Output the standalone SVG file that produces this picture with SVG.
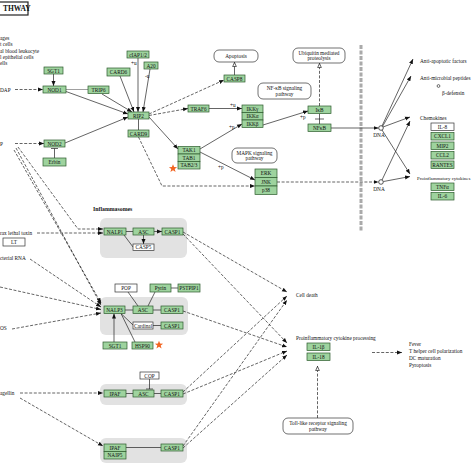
<svg xmlns="http://www.w3.org/2000/svg" width="474" height="474" viewBox="0 0 474 474">
<style>
.g{fill:#9ed39e;stroke:#2c5a2c;stroke-width:0.7}
.w{fill:#fff;stroke:#333;stroke-width:0.7}
.r{fill:#fff;stroke:#333;stroke-width:0.7}
.gb{fill:#e2e2e2;stroke:none}
text{font-family:"Liberation Serif",serif;font-size:5.3px;fill:#111}
.c{text-anchor:middle}
.s{stroke:#222;stroke-width:0.7;fill:none}
.d{stroke-dasharray:3 1.6}
.gl{stroke:#777;stroke-width:0.7;fill:none}
</style>
<defs>
<marker id="a" viewBox="0 0 6 6" refX="6" refY="3" markerWidth="5" markerHeight="5" orient="auto" markerUnits="userSpaceOnUse"><path d="M0,0.6 L6,3 L0,5.4z" fill="#111"/></marker>
<marker id="h" viewBox="0 0 6 6" refX="6" refY="3" markerWidth="5" markerHeight="5" orient="auto" markerUnits="userSpaceOnUse"><path d="M0.5,0.8 L5.5,3 L0.5,5.2z" fill="#fff" stroke="#111" stroke-width="0.8"/></marker>
</defs>
<rect width="474" height="474" fill="#fff"/>

<g id="title"><rect x="-2" y="2" width="30" height="13" fill="#fff" stroke="#222" stroke-width="1.2"/><text x="3" y="11" style="font-size:7.5px;font-weight:bold">THWAY</text></g>

<g id="lefttexts">
<text x="0" y="40">ages</text>
<text x="0" y="45.5">t cells</text>
<text x="0" y="52.5">al blood leukocyte</text>
<text x="0" y="58.5">l epithelial cells</text>
<text x="0" y="65">ells</text>
<text x="0" y="91.5">DAP</text>
<text x="0" y="145.5">P</text>
<text x="0" y="235">rax lethal toxin</text>
<text x="0" y="260">cterial RNA</text>
<text x="0" y="330">OS</text>
<text x="0" y="395">agellin</text>
</g>

<g id="inflammasome-areas">
<rect class="gb" x="100" y="218" width="87" height="40" rx="6"/>
<rect class="gb" x="100" y="297" width="88" height="38" rx="6"/>
<rect class="gb" x="100" y="384" width="87" height="21" rx="6"/>
<rect class="gb" x="100" y="438" width="87" height="25" rx="6"/>
<text x="93" y="211" style="font-size:5.8px;font-weight:bold">Inflammasomes</text>
</g>

<g id="membrane"><line x1="361" y1="45" x2="361" y2="232" stroke="#aaa" stroke-width="3" stroke-dasharray="4 1.5"/></g>

<g id="connectors">
<path class="s d" d="M15,89.5 L43,89.5" marker-end="url(#a)"/>
<path class="s d" d="M15,143.5 L44,143.5" marker-end="url(#a)"/>
<path class="s" d="M53.5,74 L53.5,86" marker-end="url(#a)"/>
<path class="gl" d="M66,89.5 L88,89.5"/>
<path class="s" d="M66,91.5 L128,114" marker-end="url(#a)"/>
<path class="s" d="M65,143 L128,117" marker-end="url(#a)"/>
<path class="s" d="M54.5,158 L54.5,148.5 M51,148.5 L58,148.5"/>
<path class="s" d="M102,94 L132,112" marker-end="url(#a)"/>
<path class="s" d="M120,76 L134,112" marker-end="url(#a)"/>
<path class="s" d="M138,58 L138,112" marker-end="url(#a)"/>
<path class="s" d="M150,69 L143,112" marker-end="url(#a)"/>
<path class="s" d="M138.5,119 L138.5,130"/>
<path class="s d" d="M149,114 L224,80" marker-end="url(#a)"/>
<path class="s d" d="M149,115.5 L188,108.5" marker-end="url(#a)"/>
<path class="s" d="M149,117 L178,149" marker-end="url(#a)"/>
<path class="s" d="M234.5,75 L234.5,62" marker-end="url(#h)"/>
<path class="s" d="M209,108.5 L242,108.5" marker-end="url(#a)"/>
<path class="s" d="M200,149 L242,124" marker-end="url(#a)"/>
<path class="s" d="M200,152 L255,180" marker-end="url(#a)"/>
<path class="s d" d="M138.5,137 L162,186 L255,186" marker-end="url(#a)"/>
<path class="s d" d="M277,182 L378.5,182" marker-end="url(#a)"/>
<path class="s" d="M263,125 L308,111" marker-end="url(#a)"/>
<path class="s" d="M319.5,113.5 L319.5,124 M315,119 L324,119"/>
<path class="s d" d="M319.5,106 L319.5,63" marker-end="url(#h)"/>
<path class="s" d="M331,128 L378.5,128" marker-end="url(#a)"/>
<path class="s" d="M382,126 L413,59" marker-end="url(#a)"/>
<path class="s" d="M382.5,126.5 L411,76" marker-end="url(#a)"/>
<path class="s" d="M383,127 L410,117" marker-end="url(#a)"/>
<path class="s" d="M382,130 L410,174" marker-end="url(#a)"/>
<path class="s" d="M382,180 L410,121" marker-end="url(#a)"/>
<path class="s" d="M383.5,181.5 L410,176.5" marker-end="url(#a)"/>
<path class="s d" d="M18,147 L78,229 L103,229" marker-end="url(#a)"/>
<path class="s d" d="M37,233 L103,233" marker-end="url(#a)"/>
<path class="s d" d="M14,150 L101,303" marker-end="url(#a)"/>
<path class="s d" d="M16,148 L101,305" marker-end="url(#a)"/>
<path class="s d" d="M30,259 L101,307" marker-end="url(#a)"/>
<path class="s d" d="M0,287 L101,309.5" marker-end="url(#a)"/>
<path class="s d" d="M12,329 L101,313" marker-end="url(#a)"/>
<path class="s d" d="M20,393 L103,393" marker-end="url(#a)"/>
<path class="s d" d="M20,398 L103,446" marker-end="url(#a)"/>
<path class="s" d="M126,231.5 L133,231.5"/>
<path class="s" d="M154,231.5 L162,231.5" marker-end="url(#a)"/>
<path class="s" d="M143.5,235 L143.5,244" marker-end="url(#a)"/>
<path class="s" d="M124,235 L133,247"/>
<path class="s" d="M125,310 L133,310"/>
<path class="s" d="M153,310 L161,310"/>
<path class="s" d="M171,288 L178,288"/>
<path class="s" d="M128,292 L138,306"/>
<path class="s" d="M155,292 L148,306"/>
<path class="s" d="M121,313.5 L133,325"/>
<path class="s" d="M153,325.5 L161,325.5"/>
<path class="s" d="M114,342 L114,313.5" marker-end="url(#a)"/>
<path class="s" d="M135,342 L121,313.5"/>
<path class="s" d="M126,393.5 L133,393.5"/>
<path class="s" d="M154,393.5 L161,393.5"/>
<path class="s" d="M149.5,379 L149.5,389 M146,389 L153,389"/>
<path class="s" d="M126,447.5 L161,447.5"/>
<path class="s d" d="M183,232 L287,292" marker-end="url(#a)"/>
<path class="s d" d="M183,234 L287,343" marker-end="url(#a)"/>
<path class="s d" d="M183,311 L287,347" marker-end="url(#a)"/>
<path class="s d" d="M183,392 L287,296" marker-end="url(#a)"/>
<path class="s d" d="M183,394 L287,351" marker-end="url(#a)"/>
<path class="s d" d="M183,446 L287,300" marker-end="url(#a)"/>
<path class="s d" d="M183,448 L287,355" marker-end="url(#a)"/>
<path class="s d" d="M317.5,418 L317.5,366" marker-end="url(#h)"/>
<path class="s d" d="M372,352.5 L402,352.5" marker-end="url(#a)"/>
</g>

<g id="edge-labels" style="font-size:4.5px">
<text x="131" y="65">+u</text>
<text x="145" y="78">-u</text>
<text x="230" y="107">+u</text>
<text x="229" y="129">+p</text>
<text x="218" y="169">+p</text>
<text x="300" y="119">+p</text>
</g>

<g id="SGT1"><rect class="g" x="44" y="67" width="19" height="7"/><text class="c" x="53.5" y="72.5">SGT1</text></g>
<g id="NOD1"><rect class="g" x="43" y="86" width="23" height="7"/><text class="c" x="54.5" y="91.5">NOD1</text></g>
<g id="TRIP6"><rect class="g" x="88" y="86" width="21" height="7.5"/><text class="c" x="98.5" y="91.8">TRIP6</text></g>
<g id="NOD2"><rect class="g" x="44" y="140" width="21" height="7"/><text class="c" x="54.5" y="145.5">NOD2</text></g>
<g id="Erbin"><rect class="g" x="43" y="158" width="23" height="8"/><text class="c" x="54.5" y="164">Erbin</text></g>
<g id="cIAP"><rect class="g" x="127" y="51" width="22" height="7"/><text class="c" x="138" y="56.5">cIAP1/2</text></g>
<g id="A20"><rect class="g" x="144" y="62" width="14" height="7"/><text class="c" x="151" y="67.5">A20</text></g>
<g id="CARD6"><rect class="g" x="107" y="68" width="23" height="8"/><text class="c" x="118.5" y="74">CARD6</text></g>
<g id="RIP2"><rect class="g" x="128" y="112" width="21" height="7"/><text class="c" x="138.5" y="117.5">RIP2</text></g>
<g id="CARD9"><rect class="g" x="128" y="130" width="21" height="7"/><text class="c" x="138.5" y="135.5">CARD9</text></g>
<g id="CASP8"><rect class="g" x="224" y="75" width="21" height="7"/><text class="c" x="234.5" y="80.5">CASP8</text></g>
<g id="Apoptosis"><rect class="r" x="214" y="50" width="44" height="12" rx="5"/><text class="c" x="236" y="58">Apoptosis</text></g>
<g id="TRAF6"><rect class="g" x="188" y="105" width="21" height="7"/><text class="c" x="198.5" y="110.5">TRAF6</text></g>
<g id="IKK"><rect class="g" x="242" y="105" width="21" height="7.5"/><rect class="g" x="242" y="112.5" width="21" height="7.5"/><rect class="g" x="242" y="120" width="21" height="7.5"/><text class="c" x="252.5" y="110.8">IKKγ</text><text class="c" x="252.5" y="118.3">IKKα</text><text class="c" x="252.5" y="125.8">IKKβ</text></g>
<g id="NFkB-path"><rect class="r" x="258" y="83" width="53" height="16" rx="5"/><text class="c" x="284.5" y="90">NF-κB signaling</text><text class="c" x="284.5" y="96">pathway</text></g>
<g id="TAK1"><rect class="g" x="178" y="146.5" width="22" height="7.5"/><rect class="g" x="178" y="154" width="22" height="7.5"/><rect class="g" x="178" y="161.5" width="22" height="7.5"/><text class="c" x="189" y="152.3">TAK1</text><text class="c" x="189" y="159.8">TAB1</text><text class="c" x="189" y="167.3">TAB2/3</text></g>
<g id="star1"><path d="M173,164.2 L174.1,167.1 L177.1,167.2 L174.7,169 L175.6,172 L173,170.2 L170.4,172 L171.3,169 L168.9,167.2 L171.9,167.1z" fill="#f26522"/></g>
<g id="MAPK-path"><rect class="r" x="232" y="148" width="45" height="15" rx="5"/><text class="c" x="254.5" y="154.5">MAPK signaling</text><text class="c" x="254.5" y="160">pathway</text></g>
<g id="ERK"><rect class="g" x="255" y="169" width="22" height="8.5"/><rect class="g" x="255" y="177.5" width="22" height="8.5"/><rect class="g" x="255" y="186" width="22" height="8.5"/><text class="c" x="266" y="175.2">ERK</text><text class="c" x="266" y="183.7">JNK</text><text class="c" x="266" y="192.2">p38</text></g>
<g id="Ubiquitin"><rect class="r" x="293" y="48" width="52" height="15" rx="5"/><text class="c" x="319" y="54.5">Ubiquitin mediated</text><text class="c" x="319" y="60">proteolysis</text></g>
<g id="IkB"><rect class="g" x="308" y="106" width="23" height="7.5"/><text class="c" x="319.5" y="111.8">IκB</text></g>
<g id="NFkB"><rect class="g" x="308" y="124" width="23" height="7.5"/><text class="c" x="319.5" y="129.8">NFκB</text></g>
<g id="DNA1"><circle cx="381" cy="128" r="2.3" fill="#fff" stroke="#111" stroke-width="0.7"/><text class="c" x="379" y="137">DNA</text></g>
<g id="DNA2"><circle cx="381" cy="182" r="2.3" fill="#fff" stroke="#111" stroke-width="0.7"/><text class="c" x="379" y="191">DNA</text></g>
<g id="outputs-right">
<text x="420" y="62.5">Anti-apoptotic factors</text>
<text x="420" y="80">Anti-microbial peptides</text>
<circle cx="438.5" cy="86" r="1.4" fill="#fff" stroke="#111" stroke-width="0.6"/>
<text x="442" y="95">β-defensin</text>
<text x="420" y="120">Chemokines</text>
<text x="417" y="179.5" style="font-size:4.9px">Proinflammatory cytokines</text>
</g>
<g id="IL8"><rect class="w" x="431" y="123" width="23" height="7.5"/><text class="c" x="442.5" y="128.8">IL-8</text></g>
<g id="CXCL1"><rect class="g" x="431" y="132.5" width="23" height="7.5"/><text class="c" x="442.5" y="138.3">CXCL1</text></g>
<g id="MIP2"><rect class="g" x="431" y="142" width="23" height="7.5"/><text class="c" x="442.5" y="147.8">MIP2</text></g>
<g id="CCL2"><rect class="g" x="431" y="151.5" width="23" height="7.5"/><text class="c" x="442.5" y="157.3">CCL2</text></g>
<g id="RANTES"><rect class="g" x="431" y="161" width="23" height="7.5"/><text class="c" x="442.5" y="166.8">RANTES</text></g>
<g id="TNFa"><rect class="g" x="431" y="183" width="23" height="7.5"/><text class="c" x="442.5" y="188.8">TNFα</text></g>
<g id="IL6"><rect class="g" x="431" y="192.5" width="23" height="7.5"/><text class="c" x="442.5" y="198.3">IL-6</text></g>

<g id="LT"><rect class="w" x="3" y="238" width="22" height="8"/><text class="c" x="14" y="244">LT</text></g>
<g id="NALP1"><rect class="g" x="104" y="228" width="22" height="7"/><text class="c" x="115" y="233.5">NALP1</text></g>
<g id="ASC1"><rect class="g" x="133" y="228" width="21" height="7"/><text class="c" x="143.5" y="233.5">ASC</text></g>
<g id="CASP1a"><rect class="g" x="162" y="228" width="21" height="7"/><text class="c" x="172.5" y="233.5">CASP1</text></g>
<g id="CASP5"><rect class="w" x="133" y="244" width="21" height="6.5"/><text class="c" x="143.5" y="249.3">CASP5</text></g>

<g id="POP"><rect class="w" x="115" y="284" width="22" height="8"/><text class="c" x="126" y="290">POP</text></g>
<g id="Pyrin"><rect class="g" x="150" y="284" width="21" height="8"/><text class="c" x="160.5" y="290">Pyrin</text></g>
<g id="PSTPIP1"><rect class="g" x="178" y="284" width="22" height="8"/><text class="c" x="189" y="290">PSTPIP1</text></g>
<g id="NALP3"><rect class="g" x="104" y="306" width="21" height="7.5"/><text class="c" x="114.5" y="311.8">NALP3</text></g>
<g id="ASC2"><rect class="g" x="133" y="306" width="20" height="7.5"/><text class="c" x="143" y="311.8">ASC</text></g>
<g id="CASP1b"><rect class="g" x="161" y="306" width="22" height="7.5"/><text class="c" x="172" y="311.8">CASP1</text></g>
<g id="Cardinal"><rect class="w" x="133" y="322" width="20" height="7"/><text class="c" x="143" y="327.5">Cardinal</text></g>
<g id="CASP1c"><rect class="g" x="161" y="322" width="22" height="7"/><text class="c" x="172" y="327.5">CASP1</text></g>
<g id="SGT1b"><rect class="g" x="103" y="342" width="24" height="7"/><text class="c" x="115" y="347.5">SGT1</text></g>
<g id="HSP90"><rect class="g" x="132" y="342" width="21" height="7"/><text class="c" x="142.5" y="347.5">HSP90</text></g>
<g id="star2"><path d="M159,340.7 L160.1,343.6 L163.1,343.7 L160.7,345.5 L161.6,348.5 L159,346.7 L156.4,348.5 L157.3,345.5 L154.9,343.7 L157.9,343.6z" fill="#f26522"/></g>

<g id="COP"><rect class="w" x="140" y="372" width="19" height="7"/><text class="c" x="149.5" y="377.5">COP</text></g>
<g id="IPAF1"><rect class="g" x="104" y="390" width="22" height="7"/><text class="c" x="115" y="395.5">IPAF</text></g>
<g id="ASC3"><rect class="g" x="133" y="390" width="21" height="7"/><text class="c" x="143.5" y="395.5">ASC</text></g>
<g id="CASP1d"><rect class="g" x="161" y="390" width="22" height="7"/><text class="c" x="172" y="395.5">CASP1</text></g>

<g id="IPAF2"><rect class="g" x="104" y="444" width="22" height="7.5"/><rect class="g" x="104" y="451.5" width="22" height="7.5"/><text class="c" x="115" y="449.8">IPAF</text><text class="c" x="115" y="457.3">NAIP5</text></g>
<g id="CASP1e"><rect class="g" x="161" y="444" width="22" height="7"/><text class="c" x="172" y="449.5">CASP1</text></g>

<g id="CellDeath"><text x="296" y="297">Cell death</text></g>
<g id="Processing"><text x="296" y="340">Proinflammatory cytokine processing</text></g>
<g id="IL1b"><rect class="g" x="307" y="343" width="23" height="7.5"/><text class="c" x="318.5" y="348.8">IL-1β</text></g>
<g id="IL18"><rect class="g" x="307" y="353" width="23" height="7.5"/><text class="c" x="318.5" y="358.8">IL-18</text></g>
<g id="TLR"><rect class="r" x="283" y="418" width="70" height="16" rx="5"/><text class="c" x="318" y="425">Toll-like receptor signaling</text><text class="c" x="318" y="431">pathway</text></g>
<g id="effects"><text x="409" y="346">Fever</text><text x="409" y="353">T helper cell polarization</text><text x="409" y="360">DC maturation</text><text x="409" y="367">Pyroptosis</text></g>
</svg>
